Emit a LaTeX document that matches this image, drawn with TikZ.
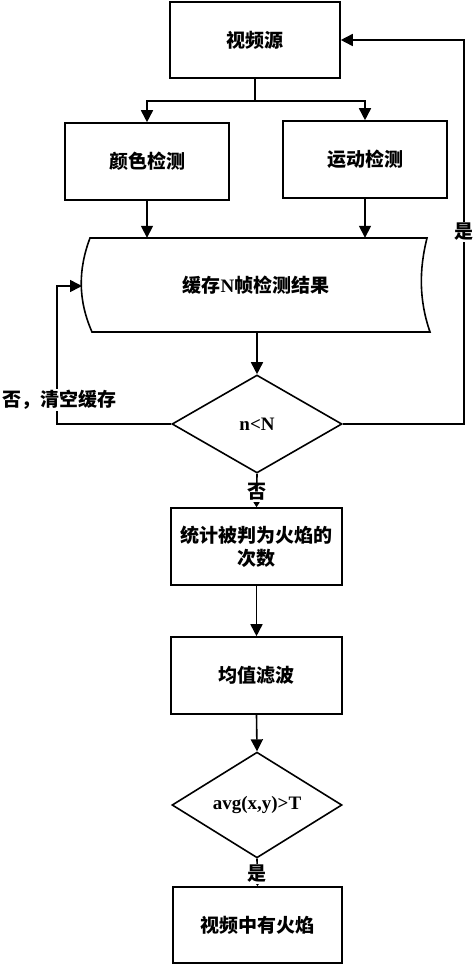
\documentclass[tikz,border=0pt]{standalone}
\usepackage{fontspec}
\setmainfont{Liberation Serif}
\newfontfamily\cjk{Noto Sans CJK SC}
\usetikzlibrary{shapes.geometric,arrows.meta}
\begin{document}
\begin{tikzpicture}[x=1pt,y=-1pt,
  every node/.style={font=\fontsize{19pt}{23pt}\selectfont\bfseries},
  box/.style={draw, line width=1.6pt, inner sep=0pt, align=center},
  dia/.style={draw, diamond, line width=1.6pt, inner sep=0pt, minimum width=170pt, minimum height=98pt},
  lbl/.style={fill=white, inner sep=1pt},
  arr/.style={line width=1.6pt, -{Triangle[length=12pt,width=12pt]}},
  sarr/.style={line width=1.6pt, -{Triangle[length=5pt,width=6pt]}},
  ln/.style={line width=1.6pt}]
\useasboundingbox (0,0) rectangle (474,967);
\node[box, minimum width=170pt, minimum height=76pt] (src) at (255,40) {\cjk 视频源};
\node[box, minimum width=164pt, minimum height=77pt] (color) at (147,161.5) {\cjk 颜色检测};
\node[box, minimum width=164pt, minimum height=77pt] (motion) at (365,159.5) {\cjk 运动检测};
\node[minimum width=340pt, minimum height=94pt, inner sep=0pt] (buf) at (256,285) {{\cjk 缓存}N{\cjk 帧检测结果}};
\draw[ln] (90,238) -- (427,238) .. controls (419,270) and (419,300) .. (430,332) -- (92,332) .. controls (78,300) and (78,270) .. cycle;
\coordinate (bufL) at (82,286);
\coordinate (split) at (255,101);
\node[dia] (d1) at (257,424) {n<N};
\node[box, minimum width=171pt, minimum height=77pt] (stat) at (256.5,546.5) {\cjk 统计被判为火焰的\\\cjk 次数};
\node[box, minimum width=171pt, minimum height=77pt] (filt) at (256.5,675.5) {\cjk 均值滤波};
\node[dia] (d2) at (257,805) {avg(x,y)>T};
\node[box, minimum width=169pt, minimum height=76pt] (fire) at (257.5,925) {\cjk 视频中有火焰};
% connectors
\draw[ln] (src.south) -- (split);
\draw[arr] (split) -| (color.north);
\draw[arr] (split) -| (motion.north);
\draw[arr] (color.south) -- (color.south |- buf.north);
\draw[arr] (motion.south) -- (motion.south |- buf.north);
\draw[arr] (buf.south -| d1.north) -- (d1.north);
\draw[arr] (d1.west) -- ++(-114,0) |- (bufL);
\draw[arr] (d1.east) -- ++(121,0) |- (src.east);
\draw[sarr] (d1.south) -- (stat.north) node[lbl, pos=0.55] (no1) {\cjk 否};
\draw[arr] (stat.south) -- (filt.north);
\draw[arr] (filt.south) -- (d2.north);
\draw[sarr] (d2.south) -- (fire.north) node[lbl, pos=0.55] (yes2) {\cjk 是};
\node[lbl] (yes1) at (464,232) {\cjk 是};
\node[lbl, anchor=south] (no2) at (59,411) {\cjk 否，清空缓存};
\end{tikzpicture}
\end{document}
